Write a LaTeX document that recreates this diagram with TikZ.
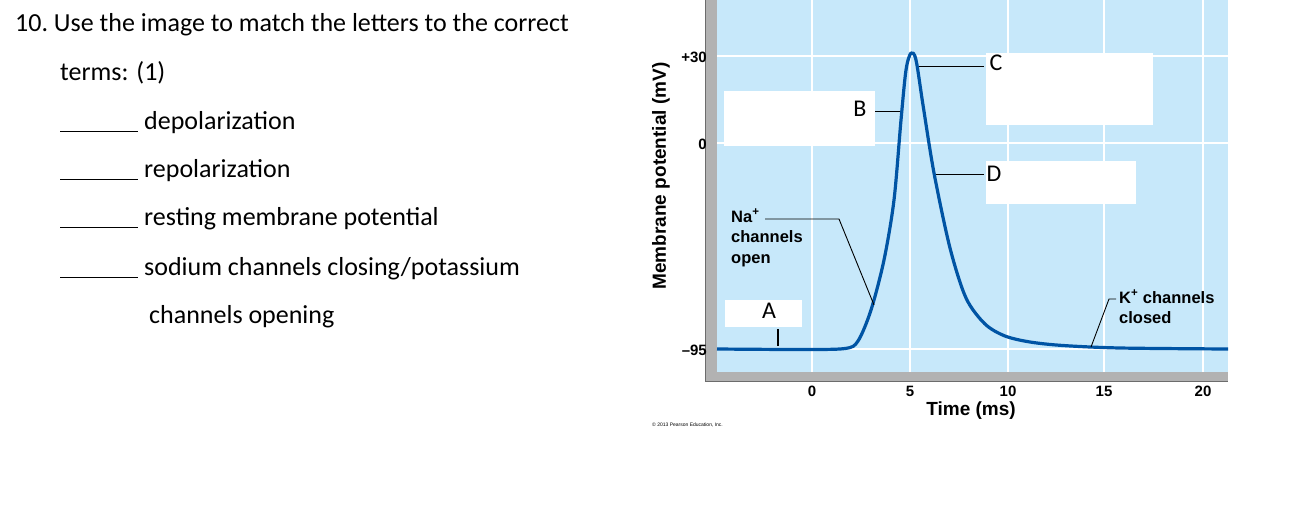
\documentclass[tikz,border=0pt]{standalone}
\usepackage{fontspec}
\setmainfont{Carlito}
\newfontfamily\arial{Liberation Sans}
\begin{document}
\begin{tikzpicture}[x=1pt,y=-1pt,
  qtext/.style={anchor=base west,font=\fontsize{26}{30}\selectfont,inner sep=0},
  ax/.style={font=\arial\bfseries\fontsize{19}{22}\selectfont,inner sep=0},
  lbl/.style={font=\fontsize{24}{26}\selectfont,inner sep=0},
  wbox/.style={fill=white,draw=none},
  lead/.style={black,line width=0.9pt},
  grid/.style={white,line width=1.2pt}]
\useasboundingbox (0,0) rectangle (1302,504);
% question text
\node[qtext] (q1) at (15,31) {10.\ Use the image to match the letters to the correct};
\node[qtext] (q2) at (60,80) {terms: (1)};
\node[qtext] (q3) at (144,129) {depolarization};
\node[qtext] (q4) at (144,177) {repolarization};
\node[qtext] (q5) at (144,225) {resting membrane potential};
\node[qtext] (q6) at (144,275) {sodium channels closing/potassium};
\node[qtext] (q7) at (149,323) {channels opening};
\foreach \yy in {131,179,227,277} \draw[line width=0.8pt] (60,\yy) -- (138,\yy);
% plot background and frame
\fill[gray!60] (705,0) rectangle (717,381);
\fill[gray!60] (705,372) rectangle (1228,381);
\draw[gray!85!black,line width=1pt] (705,0) -- (705,381) -- (1228,381);
\fill[fill={rgb,255:red,199;green,232;blue,250}] (717,0) rectangle (1228,372);
\foreach \xx in {812,910,1008,1104,1203} \draw[grid] (\xx,0) -- (\xx,372);
\foreach \yy in {56,143,349} \draw[grid] (717,\yy) -- (1228,\yy);
% boxes
\fill[wbox] (724,91) rectangle (875,146);
\fill[wbox] (986,53) rectangle (1153,125);
\fill[wbox] (986,161) rectangle (1136,204);
\fill[wbox] (725,300) rectangle (802,327);
% curve
\draw[line width=3.2pt,color={rgb,255:red,0;green,84;blue,164},line join=round]
 plot[smooth,tension=0.5] coordinates {(717,349) (800,349.5) (845,348.5) (858,341) (871,310) (884,260) (894,200) (901,120) (906,70) (911,53) (916,60) (923,105) (934,173) (950,248) (966,298) (985,324) (1005,336) (1030,342) (1063,345.5) (1120,348) (1228,349)};
% labels
\node[lbl] (A) at (769,311) {A};
\node[lbl] (B) at (860,109) {B};
\node[lbl] (C) at (996,63) {C};
\node[lbl] (D) at (994,174) {D};
\coordinate (a1) at (778,329); \coordinate (a2) at (778,346);
\draw[lead,line width=1.6pt] (a1) -- (a2);
\coordinate (b1) at (875,111); \coordinate (b2) at (900,111); \draw[lead] (b1) -- (b2);
\coordinate (c1) at (984,66); \coordinate (c2) at (919,66); \draw[lead] (c1) -- (c2);
\coordinate (d1) at (984,174); \coordinate (d2) at (936,174); \draw[lead] (d1) -- (d2);
\node[ax,anchor=north west,align=left,font=\arial\bfseries\fontsize{16.5}{20.5}\selectfont] (na) at (731,209) {Na\textsuperscript{+}\\channels\\open};
\coordinate (n1) at (765,219); \coordinate (n2) at (839,219); \coordinate (n3) at (874,305);
\draw[lead] (n1) -- (n2) -- (n3);
\node[ax,anchor=north west,align=left,font=\arial\bfseries\fontsize{16.5}{20.5}\selectfont] (k) at (1119,290) {K\textsuperscript{+} channels\\closed};
\coordinate (k1) at (1116,299); \coordinate (k2) at (1109,299); \coordinate (k3) at (1091,347);
\draw[lead] (k1) -- (k2) -- (k3);
% axes text
\node[ax,anchor=east,font=\arial\bfseries\fontsize{15}{18}\selectfont] (y1) at (707,57) {+30};
\node[ax,anchor=east,font=\arial\bfseries\fontsize{15}{18}\selectfont] (y2) at (707,144) {0};
\node[ax,anchor=east,font=\arial\bfseries\fontsize{15}{18}\selectfont] (y3) at (707,350) {\textendash95};
\foreach \xx/\t in {812/0,910/5,1008/10,1104/15,1203/20} \node[ax,font=\arial\bfseries\fontsize{15}{18}\selectfont] at (\xx,391) {\t};
\node[ax] (xl) at (971,411) {Time (ms)};
\node[ax,rotate=90] (yl) at (661,176) {Membrane potential (mV)};
\node[font=\arial\fontsize{5}{6}\selectfont,anchor=west,inner sep=0] (cp) at (652,425) {\textcopyright\ 2013 Pearson Education, Inc.};
\end{tikzpicture}
\end{document}
